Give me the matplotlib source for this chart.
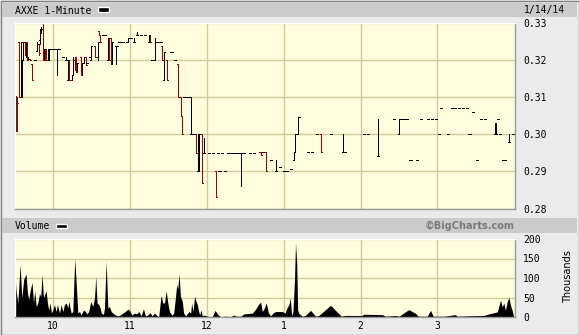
import matplotlib
matplotlib.use('Agg')
import matplotlib.pyplot as plt
from matplotlib.patches import Rectangle

# minutes after 9:30 for bars that traded in a range
bar_min = [1, 2, 4, 5, 6, 7, 8, 9, 10, 11, 12, 14, 18, 19, 20, 21, 22, 23, 24, 25,
           26, 27, 33, 40, 42, 43, 45, 46, 47, 48, 49, 52, 53, 54, 56, 60, 63, 65, 66, 67,
           73, 74, 75, 76, 79, 89, 93, 96, 105, 106, 110, 115, 117, 119, 128, 130, 131, 138, 142, 143,
           144, 146, 148, 157, 177, 192, 196, 204, 218, 219, 221, 239, 256, 284, 300, 375, 376, 386]
bar_open = [.301, .309, .3249, .310, .310, .320, .3249, .3225, .325, .320, .3205, .319, .3225, .3245, .3255, .3282, .330, .320, .323, .323,
            .320, .323, .323, .320, .3148, .320, .3148, .316, .320, .3209, .317, .3209, .316, .3193, .3209, .320, .3238, .321, .328, .3269,
            .320, .326, .326, .319, .3238, .3249, .3249, .3269, .3249, .3269, .320, .3238, .3148, .320, .319, .310, .3049, .300, .300, .290,
            .290, .300, .295, .290, .2951, .2953, .2953, .290, .2932, .2954, .300, .300, .2952, .2942, .300, .300, .300, .2981]
bar_high = [.3105, .310, .3249, .325, .320, .325, .325, .325, .325, .321, .3205, .319, .325, .3245, .3285, .329, .3303, .323, .323, .323,
            .323, .323, .323, .3209, .320, .320, .316, .3209, .3209, .3209, .3193, .3209, .3193, .3209, .3209, .3238, .3238, .3249, .328, .3269,
            .326, .326, .326, .3249, .3238, .326, .326, .3278, .3269, .3269, .326, .3238, .3222, .320, .319, .310, .3049, .310, .300, .300,
            .300, .300, .299, .290, .2951, .2953, .2953, .2932, .2954, .300, .3047, .300, .300, .3042, .3042, .3031, .3031, .300]
bar_low = [.301, .301, .310, .310, .310, .320, .3215, .321, .320, .320, .320, .3148, .3225, .3215, .3245, .3275, .320, .320, .320, .320,
           .320, .320, .316, .320, .3148, .3148, .3148, .316, .3173, .317, .317, .316, .316, .3193, .3188, .320, .3209, .320, .3269, .3249,
           .320, .320, .319, .319, .319, .3249, .3249, .3269, .3249, .3249, .320, .320, .3148, .3148, .310, .3049, .300, .300, .295, .290,
           .290, .287, .295, .2832, .2862, .2944, .290, .290, .2932, .2954, .300, .2952, .2952, .2942, .300, .300, .300, .2981]
bar_close = [.309, .3085, .310, .3249, .320, .3249, .3225, .3245, .320, .3205, .320, .3148, .3245, .322, .3282, .3285, .320, .323, .3205, .320,
             .323, .323, .323, .320, .320, .3148, .316, .320, .3175, .317, .3193, .316, .3193, .3209, .3188, .3238, .321, .3249, .3269, .3249,
             .326, .320, .319, .3249, .3238, .326, .3249, .3269, .3269, .3249, .3249, .320, .3222, .3148, .310, .3049, .300, .300, .295, .290,
             .300, .287, .2951, .2832, .2951, .2944, .290, .290, .2954, .300, .3047, .2952, .2952, .2942, .3042, .3031, .300, .2981]

# minutes with a single traded price
flat_min = [16, 29, 31, 35, 38, 57, 59, 69, 71, 80, 82, 85, 88, 91, 99, 102, 107, 112, 114, 122,
            123, 125, 132, 134, 136, 139, 140, 152, 155, 159, 160, 162, 164, 167, 169, 171, 173, 175, 179, 184,
            187, 194, 200, 207, 210, 213, 216, 222, 229, 232, 236, 247, 258, 273, 276, 296, 302, 304, 306, 309,
            314, 317, 323, 326, 329, 331, 333, 338, 341, 344, 347, 350, 353, 355, 358, 361, 364, 367, 377, 379,
            381, 383, 389]
flat_px = [.320, .323, .323, .323, .3209, .3193, .3209, .3269, .3269, .3238, .3249, .3249, .3249, .326, .3269, .3269, .320, .3249, .3249, .3222,
           .3222, .320, .310, .310, .310, .300, .300, .2951, .2951, .2951, .290, .2951, .290, .2951, .2951, .2951, .2951, .2951, .2951, .2951,
           .2951, .2953, .2932, .2912, .290, .290, .2906, .3047, .2952, .2952, .300, .300, .2952, .300, .300, .3042, .3042, .3042, .3042, .2932,
           .2932, .3042, .3042, .3042, .3042, .300, .3072, .300, .3072, .3072, .3072, .3072, .3072, .300, .306, .2932, .3042, .3042, .3042, .300,
           .2932, .2932, .300]

# volume, thousands of shares
vol_min = [0, 1.4, 2.7, 4.5, 5.8, 7.3, 9.1, 10.2, 11.2, 12.3, 13.8, 14.9, 15.9, 17, 18.3, 19.6, 20.6, 21.6, 22.7, 23.7,
           24.8, 25.8, 26.8, 27.9, 28.9, 30, 31.3, 32.6, 33.6, 35.2, 36.5, 37.8, 39.1, 40.4, 41.7, 42.4, 44.3, 45.6, 47.1, 48.2,
           49.5, 50.8, 52.1, 53.9, 55.4, 56.5, 58, 59.6, 61.2, 62.5, 63.5, 64.5, 65.8, 66.9, 67.9, 69.5, 70.3, 71.6, 72.9, 74.2,
           75.5, 76.8, 78.8, 80.7, 82.5, 84.6, 86.4, 88.5, 89.8, 91.8, 93.7, 95.5, 97, 98.9, 100.7, 102.2, 104, 105.9, 107.4, 109.3,
           111, 112.6, 114.4, 115.8, 117.1, 118.4, 119.7, 121, 122.8, 124.3, 125.6, 126.7, 127.4, 128.5, 129.5, 131, 132, 133.6, 136.2, 137.5,
           138.3, 139.3, 140.6, 141.7, 142.7, 143.5, 144.5, 145.6, 146.6, 147.9, 151.8, 154.4, 156.5, 159.1, 160.9, 164.3, 168.7, 171.3, 173.1, 176.5,
           179.1, 185.6, 188.2, 190.3, 192.1, 193.4, 195, 196.5, 198.1, 199.9, 202, 203.8, 209, 211.1, 212.6, 214.2, 215.2, 216.3, 217.3, 218.5,
           219.3, 220.2, 221, 222, 224.5, 227, 231, 235, 237.5, 246.6, 255, 258, 271, 272.6, 287, 289.5, 297.3, 300, 307.7, 313,
           315, 322, 324.6, 326.7, 335, 344, 345.4, 353, 366, 371.4, 376.6, 379.2, 380.5, 381.8, 383, 384.4, 385.7, 387, 388.3, 389.5]
vol_k = [128, 67, 36, 135, 49, 97, 110, 62, 45, 67, 89, 36, 67, 27, 36, 60, 53, 110, 49, 58,
         67, 36, 18, 36, 10, 18, 32, 14, 32, 10, 32, 14, 32, 36, 23, 40, 10, 14, 150, 89,
         10, 14, 5, 18, 14, 8, 14, 40, 27, 49, 103, 36, 32, 23, 10, 7, 23, 143, 23, 27,
         14, 10, 5, 3, 5, 10, 14, 20, 17, 5, 10, 8, 14, 3, 21, 3, 5, 11, 3, 10,
         4, 1, 55, 36, 36, 67, 36, 14, 5, 10, 49, 84, 71, 110, 53, 40, 10, 3, 14, 10,
         36, 14, 53, 40, 32, 18, 5, 18, 3, 5, 1, 1, 17, 5, 1, 2, 1, 5, 2, 2,
         8, 10, 20, 32, 38, 14, 23, 36, 11, 3, 11, 14, 14, 10, 23, 32, 49, 3, 14, 95,
         190, 142, 17, 9, 2, 4, 17, 2, 4, 30, 2, 4, 4, 7, 6, 2, 4, 2, 19, 9,
         2, 2, 17, 2, 2, 6, 2, 3, 4, 9, 13, 43, 26, 36, 17, 39, 50, 30, 17, 0]

hour_min = [30, 90, 150, 210, 270, 330]
hour_lbl = ['10', '11', '12', '1', '2', '3']
price_ticks = [0.28, 0.29, 0.30, 0.31, 0.32, 0.33]
vol_ticks = [0, 50, 100, 150, 200]

W, H = 579, 335
PLOT_BG = '#fefedf'
GRID = '#cccc99'
RED = '#a00000'
MONO = 'DejaVu Sans Mono'
LW = 0.55

fig = plt.figure(figsize=(W / 100, H / 100), dpi=100)
fig.patch.set_facecolor('#ebebeb')

# pixel-space backdrop for the header bars and labels
bg = fig.add_axes([0, 0, 1, 1])
bg.set_xlim(0, W)
bg.set_ylim(H, 0)
bg.axis('off')
bg.add_patch(Rectangle((0.5, 0.5), W - 1, H - 1, fill=False, edgecolor='#808080', lw=1))
bg.add_patch(Rectangle((2, 3), W - 4, 14, facecolor='#cbcbcb', edgecolor='none'))
bg.add_patch(Rectangle((2, 218), W - 4, 15, facecolor='#cbcbcb', edgecolor='none'))
bg.text(15, 10.5, 'AXXE 1-Minute', family=MONO, fontsize=7, va='center')
bg.add_patch(Rectangle((98, 7), 11, 5, facecolor='black', edgecolor='white', lw=1))
bg.text(524, 10.5, '1/14/14', family=MONO, fontsize=7, va='center')
bg.text(15, 226, 'Volume', family=MONO, fontsize=7, va='center')
bg.add_patch(Rectangle((56, 223.5), 11, 4.5, facecolor='black', edgecolor='white', lw=1))
bg.text(515, 226, '\u00a9BigCharts.com', fontsize=7, fontweight='bold', color='#7a7a7a',
        va='center', ha='right')
bg.text(568, 277, 'Thousands', fontsize=7, rotation=90, va='center', ha='center')


def px_axes(x0, y0, x1, y1):
    a = fig.add_axes([x0 / W, 1 - y1 / H, (x1 - x0) / W, (y1 - y0) / H])
    a.set_facecolor(PLOT_BG)
    for s in ['top', 'left']:
        a.spines[s].set_color('white')
    for s in ['bottom', 'right']:
        a.spines[s].set_color('#9a9a9a')
    for s in a.spines.values():
        s.set_linewidth(1)
    a.set_xlim(0.5, 390.5)
    a.set_xticks(hour_min)
    a.grid(True, color=GRID, lw=1)
    a.set_axisbelow(True)
    a.yaxis.tick_right()
    a.tick_params(length=0, labelsize=7, pad=6)
    return a


# price panel
ax = px_axes(15, 22.5, 515, 208.5)
ax.set_ylim(0.28, 0.33027)
ax.set_yticks(price_ticks)
ax.set_yticklabels(['%.2f' % p for p in price_ticks], family=MONO)
ax.set_xticklabels([])

colors = [RED if c < o else 'black' for o, c in zip(bar_open, bar_close)]
ax.vlines(bar_min, bar_low, bar_high, colors=colors, lw=LW, antialiased=False)
ax.hlines(bar_open, [m - 0.8 for m in bar_min], bar_min, colors=colors, lw=LW, antialiased=False)
ax.hlines(bar_close, bar_min, [m + 0.8 for m in bar_min], colors=colors, lw=LW, antialiased=False)
ax.hlines(flat_px, [m - 0.8 for m in flat_min], [m + 0.8 for m in flat_min], colors='black',
          lw=LW, antialiased=False)

# volume panel
av = px_axes(15, 239, 515, 317)
av.set_ylim(0, 200)
av.set_yticks(vol_ticks)
av.set_yticklabels([str(v) for v in vol_ticks], family=MONO)
av.set_xticklabels(hour_lbl, family=MONO)
av.tick_params(axis='x', pad=3)
av.fill_between(vol_min, vol_k, 0, color='black', lw=0)

fig.savefig('out.png', dpi=100, facecolor=fig.get_facecolor())
